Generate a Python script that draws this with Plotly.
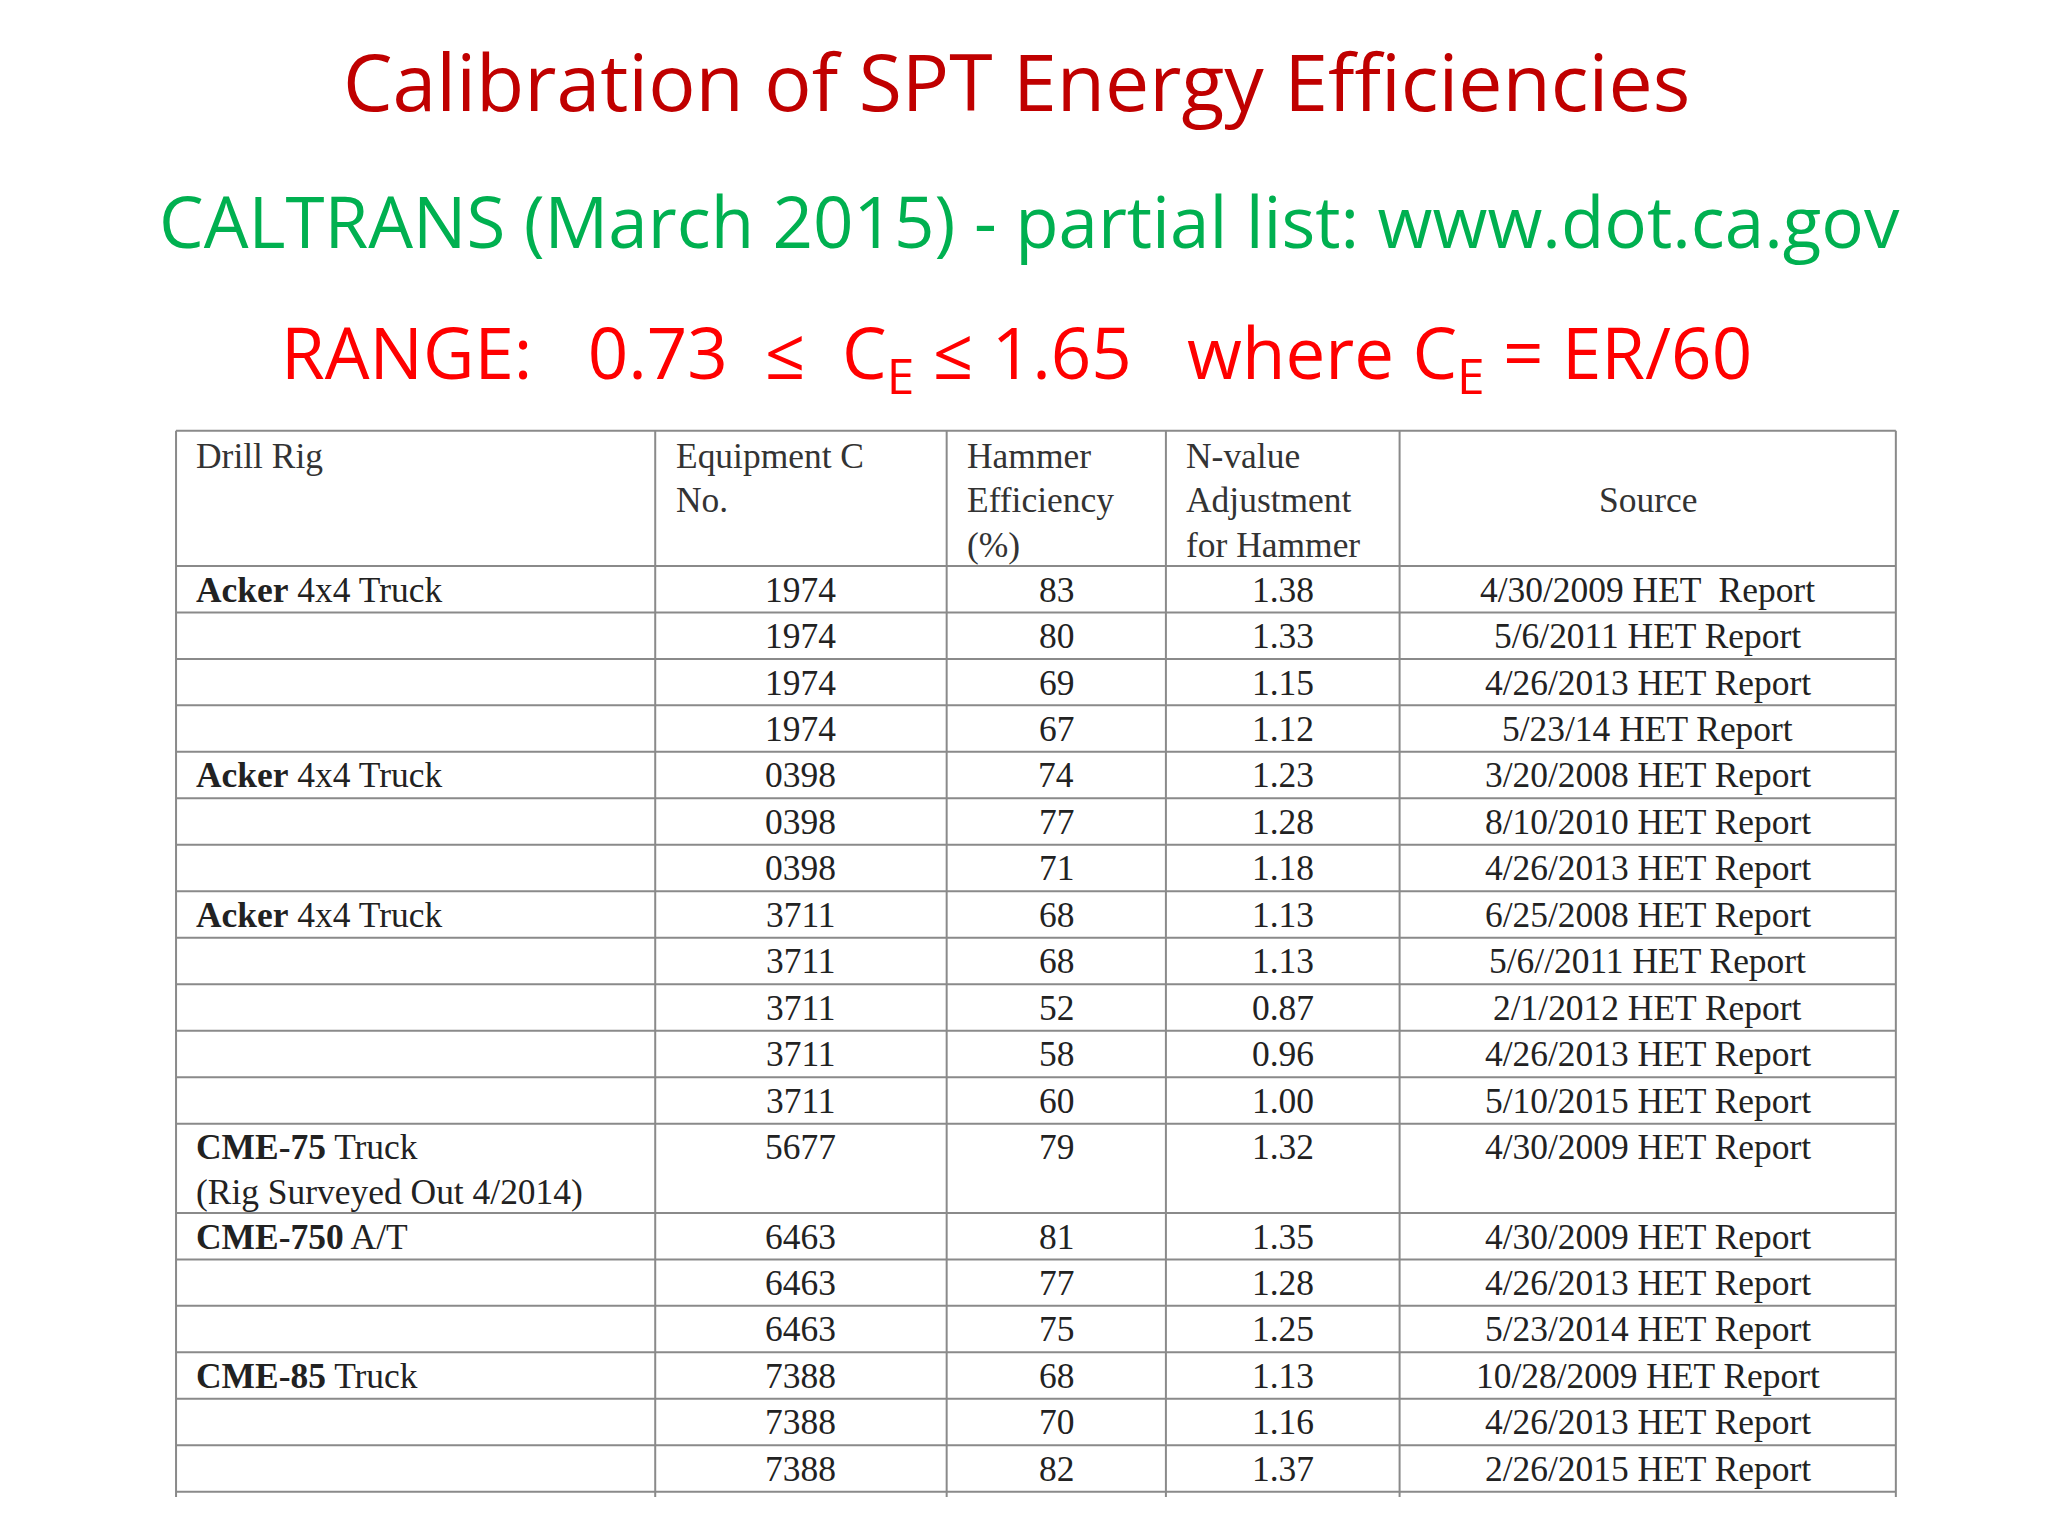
import plotly.graph_objects as go

# table content
headers = [["Drill Rig"], ["Equipment C", "No."], ["Hammer", "Efficiency", "(%)"],
           ["N-value", "Adjustment", "for Hammer"], ["Source"]]
rigs = ["<b>Acker</b> 4x4 Truck", "", "", "",
        "<b>Acker</b> 4x4 Truck", "", "",
        "<b>Acker</b> 4x4 Truck", "", "", "", "",
        "<b>CME-75</b> Truck|(Rig Surveyed Out 4/2014)",
        "<b>CME-750</b> A/T", "", "",
        "<b>CME-85</b> Truck", "", ""]
equipment = ["1974", "1974", "1974", "1974", "0398", "0398", "0398",
             "3711", "3711", "3711", "3711", "3711", "5677",
             "6463", "6463", "6463", "7388", "7388", "7388"]
efficiency = [83, 80, 69, 67, 74, 77, 71, 68, 68, 52, 58, 60, 79, 81, 77, 75, 68, 70, 82]
adjustment = ["1.38", "1.33", "1.15", "1.12", "1.23", "1.28", "1.18", "1.13", "1.13",
              "0.87", "0.96", "1.00", "1.32", "1.35", "1.28", "1.25", "1.13", "1.16", "1.37"]
sources = ["4/30/2009 HET  Report", "5/6/2011 HET Report", "4/26/2013 HET Report",
           "5/23/14 HET Report", "3/20/2008 HET Report", "8/10/2010 HET Report",
           "4/26/2013 HET Report", "6/25/2008 HET Report", "5/6//2011 HET Report",
           "2/1/2012 HET Report", "4/26/2013 HET Report", "5/10/2015 HET Report",
           "4/30/2009 HET Report", "4/30/2009 HET Report", "4/26/2013 HET Report",
           "5/23/2014 HET Report", "10/28/2009 HET Report", "4/26/2013 HET Report",
           "2/26/2015 HET Report"]

W, H = 1560, 1170          # layout units (scaled to 2048x1536)
K = 2048 / W
col_x = [128, 493, 715, 882, 1060, 1438]
top, head_bot = 322, 425
row_h = 35.4
tall_rows = {12: 68}
serif = "Liberation Serif"
fs = 27 * K

fig = go.Figure()
fig.update_xaxes(range=[0, W], visible=False, fixedrange=True)
fig.update_yaxes(range=[H, 0], visible=False, fixedrange=True)

line = dict(color="#8a8a8a", width=2)
ann = []

# titles
ann.append(dict(x=768, y=55, text="Calibration of SPT Energy Efficiencies",
                font=dict(family="Open Sans", size=60 * K, color="#C00000")))
ann.append(dict(x=778, y=162, text="CALTRANS (March 2015) - partial list: www.dot.ca.gov",
                font=dict(family="Open Sans", size=54 * K, color="#00B050")))
nb = "\u00a0"
ann.append(dict(x=768, y=265,
                text=f"RANGE:{nb*3}0.73{nb*2}≤{nb*2}C<sub>E</sub> ≤ 1.65{nb*3}where C<sub>E</sub> = ER/60",
                font=dict(family="Open Sans", size=54 * K, color="#FF0000")))

# header, one annotation per line for tight spacing
for i, h in enumerate(headers):
    if i == 4:
        ann.append(dict(x=(col_x[4] + col_x[5]) / 2, y=375, text=h[0],
                        font=dict(family=serif, size=fs, color="#333")))
    else:
        for j, t in enumerate(h):
            ann.append(dict(x=col_x[i] + 14, y=341 + 34 * j, text=t, xanchor="left",
                            font=dict(family=serif, size=fs, color="#333")))

# rows
bounds = [head_bot]
for r in range(len(equipment)):
    bounds.append(bounds[-1] + tall_rows.get(r, row_h))
for r in range(len(equipment)):
    y0 = bounds[r]
    yc = y0 + 18
    for j, t in enumerate(rigs[r].split("|")):
        if t:
            ann.append(dict(x=col_x[0] + 14, y=yc + 34 * j, text=t, xanchor="left",
                            font=dict(family=serif, size=fs, color="#222")))
    vals = [equipment[r], str(efficiency[r]), adjustment[r], sources[r]]
    for c, v in enumerate(vals):
        ann.append(dict(x=(col_x[c + 1] + col_x[c + 2]) / 2, y=yc, text=v,
                        font=dict(family=serif, size=fs, color="#222")))

for a in ann:
    a.update(xref="x", yref="y", showarrow=False, yanchor="middle")

shapes = [dict(type="line", x0=col_x[0], x1=col_x[-1], y0=y, y1=y, line=line)
          for y in [top] + bounds]
shapes += [dict(type="line", x0=x, x1=x, y0=top, y1=bounds[-1] + 4, line=line) for x in col_x]

fig.update_layout(width=2048, height=1536, margin=dict(l=0, r=0, t=0, b=0),
                  plot_bgcolor="white", paper_bgcolor="white",
                  annotations=ann, shapes=shapes, showlegend=False)
fig.write_html("out.html")
